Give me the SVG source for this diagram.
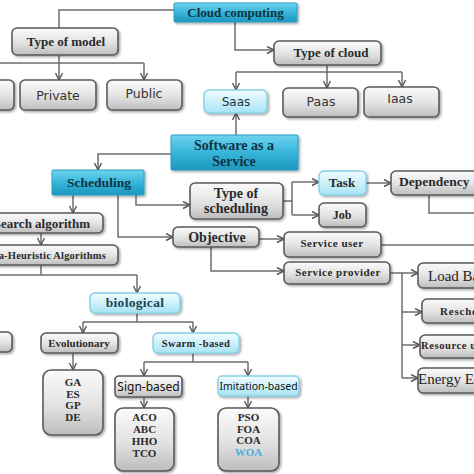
<svg xmlns="http://www.w3.org/2000/svg" width="474" height="474" viewBox="0 0 474 474">
<defs>
<linearGradient id="gGrey" x1="0" y1="0" x2="0" y2="1"><stop offset="0" stop-color="#fbfbfb"/><stop offset="0.55" stop-color="#e2e2e2"/><stop offset="1" stop-color="#bdbdbd"/></linearGradient>
<linearGradient id="gTeal" x1="0" y1="0" x2="0" y2="1"><stop offset="0" stop-color="#6fd3ee"/><stop offset="0.5" stop-color="#37b5da"/><stop offset="1" stop-color="#1c97bf"/></linearGradient>
<linearGradient id="gCyan" x1="0" y1="0" x2="0" y2="1"><stop offset="0" stop-color="#f0fcff"/><stop offset="0.5" stop-color="#cdf1fb"/><stop offset="1" stop-color="#a5e3f4"/></linearGradient>
<filter id="sh" x="-10%" y="-20%" width="130%" height="150%"><feDropShadow dx="1.5" dy="1.5" stdDeviation="1" flood-color="#000" flood-opacity="0.35"/></filter>
<marker id="arr" markerWidth="10" markerHeight="10" refX="8" refY="4" orient="auto" markerUnits="userSpaceOnUse"><path d="M1,0.5 L8,4 L1,7.5" fill="none" stroke="#555" stroke-width="1.4"/></marker>
</defs>
<style>
.grey{fill:url(#gGrey);stroke:#5a5a5a;stroke-width:1.6;filter:url(#sh)}
.teal{fill:url(#gTeal);stroke:#2a9cc0;stroke-width:1;filter:url(#sh)}
.cyan{fill:url(#gCyan);stroke:#86cfe4;stroke-width:1.4;filter:url(#sh)}
.c{fill:none;stroke:#6e6e6e;stroke-width:1.5}
.a{marker-end:url(#arr)}
.sb{font-family:"Liberation Serif",serif;font-weight:bold;fill:#2a2a2a;text-anchor:middle}
.tb{font-family:"Liberation Serif",serif;font-weight:bold;fill:#0d3442;text-anchor:middle}
.sn{font-family:"DejaVu Sans",sans-serif;fill:#333;text-anchor:middle}
.ns{font-family:"Noto Sans",sans-serif;fill:#111;text-anchor:middle}
.sr{font-family:"Liberation Serif",serif;fill:#222}
.lst{font-size:11px}
</style>
<rect width="474" height="474" fill="#ffffff"/>
<g id="connectors">
<path class="c" d="M174,10 H59 V28"/>
<path class="c a" d="M235,22 V50 H274"/>
<path class="c" d="M59,55 V63 M0,63 H144"/>
<path class="c a" d="M59,63 V80"/>
<path class="c a" d="M144,63 V80"/>
<path class="c" d="M327,65 V72 M236,72 H402"/>
<path class="c a" d="M236,72 V90"/>
<path class="c a" d="M327,72 V88"/>
<path class="c a" d="M402,72 V87"/>
<path class="c a" d="M236,135 V113"/>
<path class="c a" d="M171,154 H98 V170"/>
<path class="c a" d="M73,195 V213"/>
<path class="c a" d="M136,195 V205 H190"/>
<path class="c a" d="M118,195 V237 H173"/>
<path class="c a" d="M41,233 V245"/>
<path class="c" d="M41,265 V275 M0,275 H137"/>
<path class="c a" d="M137,275 V293"/>
<path class="c" d="M137,313 V322 M83,322 H193"/>
<path class="c a" d="M83,322 V333"/>
<path class="c a" d="M193,322 V333"/>
<path class="c a" d="M73,353 V370"/>
<path class="c" d="M193,353 V362 M144,362 H248"/>
<path class="c a" d="M144,362 V376"/>
<path class="c a" d="M248,362 V376"/>
<path class="c a" d="M144,397 V408"/>
<path class="c a" d="M248,396 V408"/>
<path class="c" d="M283,201 H292 M292,182 V215"/>
<path class="c a" d="M292,182 H319"/>
<path class="c a" d="M292,215 H319"/>
<path class="c a" d="M366,183 H391"/>
<path class="c" d="M429,195 V213 H474"/>
<path class="c a" d="M259,239 H284"/>
<path class="c" d="M381,245 H474"/>
<path class="c a" d="M211,247 V271 H284"/>
<path class="c a" d="M390,273 H418"/>
<path class="c" d="M402,273 V378"/>
<path class="c a" d="M402,312 H422"/>
<path class="c a" d="M402,345 H420"/>
<path class="c a" d="M402,378 H418"/>
</g>
<g id="cloud"><rect class="teal" x="174" y="3" width="123" height="19" rx="1"/><text class="tb" x="235.5" y="17" font-size="13">Cloud computing</text></g>
<g id="typeModel"><rect class="grey" x="12" y="28" width="106" height="27" rx="5"/><text class="sb" x="66" y="46" font-size="13">Type of model</text></g>
<g id="modelLeft"><rect class="grey" x="-20" y="80" width="34" height="30" rx="5"/></g>
<g id="private"><rect class="grey" x="20" y="80" width="76" height="30" rx="5"/><text class="sn" x="58" y="100" font-size="12.5">Private</text></g>
<g id="public"><rect class="grey" x="107" y="80" width="75" height="30" rx="5"/><text class="sn" x="144" y="98" font-size="12.5">Public</text></g>
<g id="typeCloud"><rect class="grey" x="274" y="41" width="107" height="24" rx="5"/><text class="sb" x="331" y="57" font-size="13">Type of cloud</text></g>
<g id="saas"><rect class="cyan" x="204" y="90" width="63" height="23" rx="5"/><text class="sn" x="236" y="106" font-size="12" style="fill:#1d3440">Saas</text></g>
<g id="paas"><rect class="grey" x="283" y="88" width="75" height="29" rx="5"/><text class="sn" x="321" y="106" font-size="12.5">Paas</text></g>
<g id="iaas"><rect class="grey" x="364" y="87" width="75" height="30" rx="5"/><text class="sn" x="400" y="103" font-size="12.5">Iaas</text></g>
<g id="software"><rect class="teal" x="171" y="135" width="127" height="35" rx="1"/><text class="tb" x="234" y="150" font-size="14">Software as a</text><text class="tb" x="234" y="166" font-size="14">Service</text></g>
<g id="scheduling"><rect class="teal" x="52" y="170" width="92" height="25" rx="1"/><text class="tb" x="99" y="187" font-size="13.5">Scheduling</text></g>
<g id="typeScheduling"><rect class="grey" x="190" y="183" width="93" height="36" rx="5"/><text class="sb" x="236" y="198" font-size="14">Type of</text><text class="sb" x="236" y="213" font-size="14">scheduling</text></g>
<g id="task"><rect class="cyan" x="319" y="171" width="47" height="24" rx="5"/><text class="sb" x="342" y="187" font-size="13">Task</text></g>
<g id="job"><rect class="grey" x="319" y="203" width="47" height="24" rx="5"/><text class="sb" x="342" y="219" font-size="12">Job</text></g>
<g id="dependency"><rect class="grey" x="391" y="171" width="100" height="24" rx="5"/><text class="sb" x="399" y="186" font-size="13.5" style="text-anchor:start">Dependency</text></g>
<g id="search"><rect class="grey" x="-30" y="213" width="133" height="20" rx="5"/><text class="sb" x="90" y="228" font-size="13" style="text-anchor:end">Search algorithm</text></g>
<g id="objective"><rect class="grey" x="173" y="227" width="86" height="20" rx="5"/><text class="sb" x="217" y="242" font-size="14">Objective</text></g>
<g id="serviceUser"><rect class="grey" x="284" y="232" width="97" height="25" rx="5"/><text class="sb" x="332" y="247" font-size="11" letter-spacing="0.5">Service user</text></g>
<g id="serviceProvider"><rect class="grey" x="284" y="262" width="106" height="22" rx="5"/><text class="sb" x="338" y="276" font-size="11" letter-spacing="0.5">Service provider</text></g>
<g id="loadBalancing"><rect class="grey" x="418" y="263" width="80" height="25" rx="5"/><text class="sr" x="428" y="281" font-size="15">Load Balancing</text></g>
<g id="rescheduling"><rect class="grey" x="422" y="299" width="80" height="24" rx="5"/><text class="sb" x="440" y="315" font-size="11" letter-spacing="0.8" style="text-anchor:start">Rescheduling</text></g>
<g id="resource"><rect class="grey" x="420" y="335" width="80" height="23" rx="5"/><text class="sb" x="421" y="349" font-size="10.5" letter-spacing="0.6" style="text-anchor:start">Resource utilization</text></g>
<g id="energy"><rect class="grey" x="418" y="368" width="80" height="25" rx="5"/><text class="sr" x="418" y="384" font-size="15">Energy Efficiency</text></g>
<g id="metaHeuristic"><rect class="grey" x="-30" y="245" width="148" height="20" rx="5"/><text class="sb" x="106" y="259" font-size="10.5" letter-spacing="0.2" style="text-anchor:end">Meta-Heuristic Algorithms</text></g>
<g id="biological"><rect class="cyan" x="90" y="293" width="90" height="20" rx="5"/><text class="sb" x="135" y="307" font-size="13.5" letter-spacing="0.3" style="fill:#1d4250">biological</text></g>
<g id="evoLeft"><rect class="grey" x="-20" y="332" width="32" height="20" rx="5"/></g>
<g id="evolutionary"><rect class="grey" x="41" y="333" width="77" height="20" rx="5"/><text class="sb" x="79" y="346.5" font-size="11">Evolutionary</text></g>
<g id="swarm"><rect class="cyan" x="153" y="333" width="86" height="20" rx="5"/><text class="sb" x="196" y="346.5" font-size="10.5" letter-spacing="0.4">Swarm -based</text></g>
<g id="evoAlgs"><rect class="grey" x="43" y="370" width="60" height="65" rx="8"/><text class="sb lst" x="73" y="386">GA</text><text class="sb lst" x="73" y="397.5">ES</text><text class="sb lst" x="73" y="409">GP</text><text class="sb lst" x="73" y="420.5">DE</text></g>
<g id="signBased"><rect class="grey" x="115" y="376" width="67" height="21" rx="4"/><text class="ns" x="148.5" y="391" font-size="12">Sign-based</text></g>
<g id="imitationBased"><rect class="cyan" x="218" y="376" width="81" height="20" rx="4"/><text class="ns" x="258.5" y="390" font-size="10.5">Imitation-based</text></g>
<g id="signAlgs"><rect class="grey" x="115" y="408" width="59" height="63" rx="8"/><text class="sb lst" x="144.5" y="421">ACO</text><text class="sb lst" x="144.5" y="433">ABC</text><text class="sb lst" x="144.5" y="445">HHO</text><text class="sb lst" x="144.5" y="457">TCO</text></g>
<g id="imitationAlgs"><rect class="grey" x="218" y="408" width="61" height="63" rx="8"/><text class="sb lst" x="248.5" y="421">PSO</text><text class="sb lst" x="248.5" y="432.5">FOA</text><text class="sb lst" x="248.5" y="444">COA</text><text class="sb lst" x="248.5" y="456" style="fill:#4aaee0">WOA</text></g>
</svg>
